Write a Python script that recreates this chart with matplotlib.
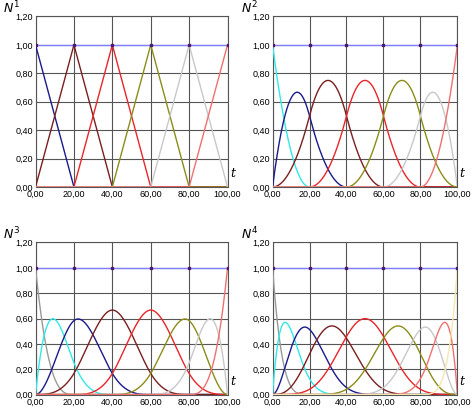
import numpy as np
import matplotlib
matplotlib.use("Agg")
import matplotlib.pyplot as plt
from matplotlib.ticker import FuncFormatter

plt.rcParams["font.family"] = ["Liberation Sans", "DejaVu Sans"]

# inner knots of the uniform B-spline basis (t in 0..100)
knots = [0, 20, 40, 60, 80, 100]
degrees = [1, 2, 3, 4]
# colours of the basis functions, in order, per degree
colors = {
    1: ["#1a1a8c", "#7a1f1f", "#e8262b", "#8c8c1a", "#c8c8c8", "#f07070"],
    2: ["#33e8e8", "#1a1a8c", "#7a1f1f", "#e8262b", "#8c8c1a", "#c8c8c8", "#f07070"],
    3: ["#9a9a9a", "#33e8e8", "#1a1a8c", "#7a1f1f", "#e8262b", "#8c8c1a", "#c8c8c8", "#f07070"],
    4: ["#9a9a9a", "#33e8e8", "#1a1a8c", "#7a1f1f", "#e8262b", "#8c8c1a", "#c8c8c8", "#f07070", "#f5e6b0"],
}


def basis(i, p, u, t):
    if p == 0:
        last = (t == u[-1]) & (u[i + 1] == u[-1]) & (u[i] < u[i + 1])
        return (((t >= u[i]) & (t < u[i + 1])) | last).astype(float)
    a = np.zeros_like(t)
    b = np.zeros_like(t)
    if u[i + p] != u[i]:
        a = (t - u[i]) / (u[i + p] - u[i]) * basis(i, p - 1, u, t)
    if u[i + p + 1] != u[i + 1]:
        b = (u[i + p + 1] - t) / (u[i + p + 1] - u[i + 1]) * basis(i + 1, p - 1, u, t)
    return a + b


fmt = FuncFormatter(lambda v, _: f"{v:.2f}".replace(".", ","))
fig = plt.figure(figsize=(4.74, 4.11), dpi=100)
boxes = [(0.075, 0.545, 0.405, 0.415), (0.575, 0.545, 0.39, 0.415),
         (0.075, 0.04, 0.405, 0.37), (0.575, 0.04, 0.39, 0.37)]
t = np.linspace(0, 100, 801)
for box, p in zip(boxes, degrees):
    ax = fig.add_axes(box)
    u = [knots[0]] * p + knots + [knots[-1]] * p
    n = len(u) - p - 1
    for i in range(n):
        ax.plot(t, basis(i, p, u, t), color=colors[p][i], lw=1.0, zorder=3)
    ax.plot(knots, [1.0] * len(knots), color="#8080ff", lw=1.0, zorder=2)
    ax.plot(knots, [1.0] * len(knots), "s", color="#4b1a6e", ms=1.6, zorder=4)
    ax.set_xlim(0, 100)
    ax.set_ylim(0, 1.2)
    ax.set_xticks(knots)
    ax.set_yticks(np.arange(0, 1.21, 0.2))
    ax.xaxis.set_major_formatter(fmt)
    ax.yaxis.set_major_formatter(fmt)
    ax.tick_params(labelsize=6.5, length=0, pad=2)
    ax.grid(True, color="#555555", lw=0.8)
    for s in ax.spines.values():
        s.set_color("#555555")
    ax.text(-0.17, 1.0, f"$N^{p}$", transform=ax.transAxes, fontsize=9,
            family="DejaVu Serif", va="bottom")
    ax.text(1.025, 0.06, "t", transform=ax.transAxes, fontsize=9,
            style="italic", family="DejaVu Serif", ha="center")

fig.savefig("out.png", dpi=100)
